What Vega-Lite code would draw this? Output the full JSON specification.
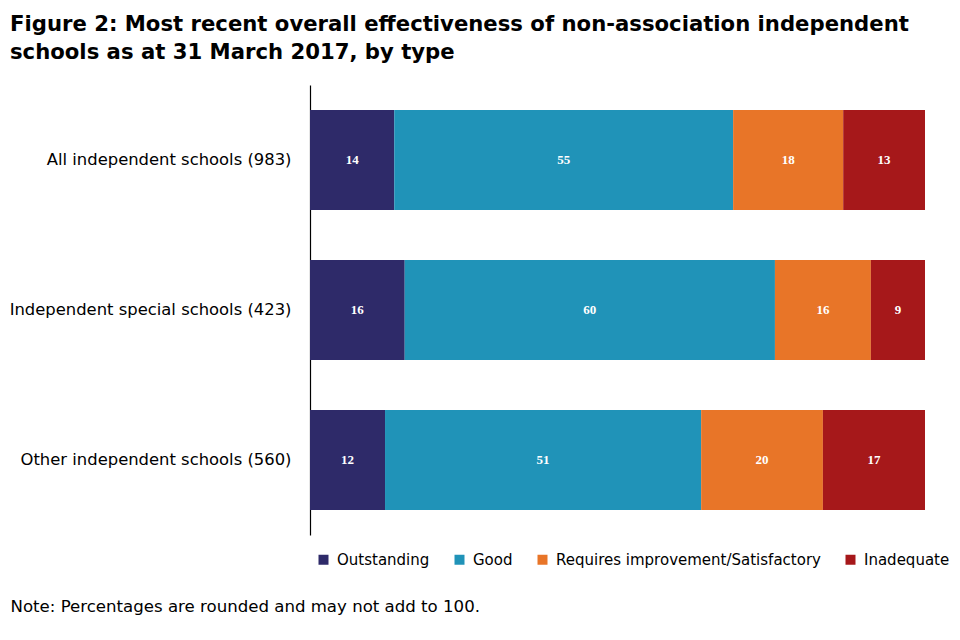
{
  "$schema": "https://vega.github.io/schema/vega-lite/v6.json",
  "width": 615,
  "height": 450,
  "autosize": {"type": "none"},
  "padding": {"left": 310, "top": 85, "right": 35, "bottom": 105},
  "background": "white",
  "config": {"view": {"stroke": null}},
  "title": {
    "text": ["Figure 2: Most recent overall effectiveness of non-association independent", "schools as at 31 March 2017, by type"],
    "anchor": "start",
    "frame": "group",
    "dx": -300,
    "offset": 22,
    "font": "DejaVu Sans",
    "fontSize": 21.2,
    "fontWeight": "bold",
    "lineHeight": 28,
    "color": "black"
  },
  "data": {
    "values": [
      {"school": "All independent schools (983)", "rating": "Outstanding", "k": 1, "value": 13.7, "label": "14"},
      {"school": "All independent schools (983)", "rating": "Good", "k": 2, "value": 55.1, "label": "55"},
      {"school": "All independent schools (983)", "rating": "Requires improvement/Satisfactory", "k": 3, "value": 17.9, "label": "18"},
      {"school": "All independent schools (983)", "rating": "Inadequate", "k": 4, "value": 13.3, "label": "13"},
      {"school": "Independent special schools (423)", "rating": "Outstanding", "k": 1, "value": 15.4, "label": "16"},
      {"school": "Independent special schools (423)", "rating": "Good", "k": 2, "value": 60.2, "label": "60"},
      {"school": "Independent special schools (423)", "rating": "Requires improvement/Satisfactory", "k": 3, "value": 15.6, "label": "16"},
      {"school": "Independent special schools (423)", "rating": "Inadequate", "k": 4, "value": 8.8, "label": "9"},
      {"school": "Other independent schools (560)", "rating": "Outstanding", "k": 1, "value": 12.2, "label": "12"},
      {"school": "Other independent schools (560)", "rating": "Good", "k": 2, "value": 51.4, "label": "51"},
      {"school": "Other independent schools (560)", "rating": "Requires improvement/Satisfactory", "k": 3, "value": 19.8, "label": "20"},
      {"school": "Other independent schools (560)", "rating": "Inadequate", "k": 4, "value": 16.6, "label": "17"}
    ]
  },
  "encoding": {
    "y": {
      "field": "school",
      "type": "nominal",
      "sort": ["All independent schools (983)", "Independent special schools (423)", "Other independent schools (560)"],
      "scale": {"paddingInner": 0.3333, "paddingOuter": 0.1667},
      "axis": {
        "title": null,
        "ticks": false,
        "tickSize": 0,
        "labelPadding": 19,
        "labelLimit": 0,
        "labelFont": "DejaVu Sans",
        "labelFontSize": 16.4,
        "labelColor": "black",
        "domainColor": "black",
        "domainWidth": 1.2
      }
    },
    "order": {"field": "k", "type": "quantitative"}
  },
  "layer": [
    {
      "mark": {"type": "bar"},
      "encoding": {
        "x": {
          "field": "value",
          "type": "quantitative",
          "stack": "normalize",
          "axis": {
            "labels": false,
            "ticks": false,
            "domain": false,
            "grid": false,
            "title": "Note: Percentages are rounded and may not add to 100.",
            "titleX": -300,
            "titleY": 71,
            "titleAlign": "left",
            "titleBaseline": "middle",
            "titleFont": "DejaVu Sans",
            "titleFontSize": 16.6,
            "titleFontWeight": "normal",
            "titleColor": "black"
          }
        },
        "color": {
          "field": "rating",
          "type": "nominal",
          "scale": {
            "domain": ["Outstanding", "Good", "Requires improvement/Satisfactory", "Inadequate"],
            "range": ["#2e2a69", "#2093b8", "#e87528", "#a6181a"]
          },
          "legend": {
            "title": null,
            "orient": "none",
            "legendX": 6,
            "legendY": 467,
            "direction": "horizontal",
            "symbolType": "square",
            "symbolSize": 100,
            "symbolStrokeWidth": 0,
            "labelFont": "DejaVu Sans",
            "labelFontSize": 15,
            "labelLimit": 0,
            "labelColor": "black",
            "labelOffset": 6,
            "columnPadding": 22,
            "padding": 0
          }
        }
      }
    },
    {
      "mark": {"type": "text", "color": "white", "font": "Liberation Serif", "fontWeight": "bold", "fontSize": 13, "baseline": "middle", "align": "center", "limit": 0},
      "encoding": {
        "x": {"field": "value", "type": "quantitative", "stack": "normalize", "bandPosition": 0.5},
        "detail": {"field": "rating"},
        "text": {"field": "label"}
      }
    }
  ]
}
